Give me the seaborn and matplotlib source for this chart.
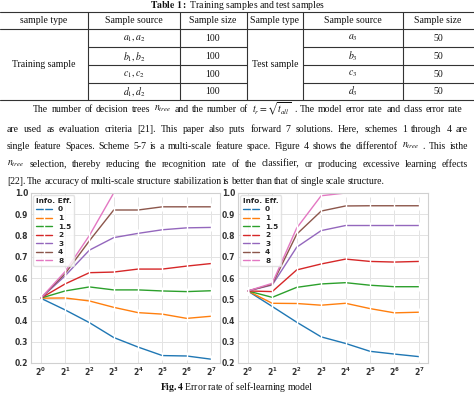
import matplotlib
matplotlib.use("Agg")
import matplotlib.pyplot as plt
import pandas as pd
import seaborn as sns

# ---- table data ----
header = ["sample type", "Sample source", "Sample size", "Sample type", "Sample source", "Sample size"]
train_sources = [r"$a_1,a_2$", r"$b_1,b_2$", r"$c_1,c_2$", r"$d_1,d_2$"]
train_sizes = [100, 100, 100, 100]
test_sources = [r"$a_3$", r"$b_3$", r"$c_3$", r"$d_3$"]
test_sizes = [50, 50, 50, 50]

# ---- chart data (x = number of trees, one list per info. eff. level) ----
n_trees = [1, 2, 4, 8, 16, 32, 64, 128]
info_eff = ["0", "1", "1.5", "2", "3", "4", "8"]

left_0 = [0.505, 0.45, 0.39, 0.32, 0.275, 0.235, 0.233, 0.218]
left_1 = [0.505, 0.506, 0.492, 0.462, 0.437, 0.43, 0.41, 0.42]
left_15 = [0.505, 0.539, 0.558, 0.544, 0.544, 0.539, 0.536, 0.54]
left_2 = [0.505, 0.572, 0.625, 0.628, 0.642, 0.642, 0.656, 0.668]
left_3 = [0.505, 0.61, 0.731, 0.79, 0.81, 0.827, 0.836, 0.838]
left_4 = [0.505, 0.62, 0.775, 0.92, 0.92, 0.935, 0.935, 0.935]
left_8 = [0.505, 0.63, 0.80, 1.0, 1.0, 1.0, 1.0, 1.0]

right_0 = [0.539, 0.466, 0.392, 0.323, 0.292, 0.255, 0.242, 0.23]
right_1 = [0.539, 0.481, 0.48, 0.472, 0.481, 0.456, 0.436, 0.439]
right_15 = [0.539, 0.509, 0.556, 0.572, 0.578, 0.566, 0.559, 0.559]
right_2 = [0.539, 0.536, 0.638, 0.666, 0.689, 0.678, 0.675, 0.678]
right_3 = [0.539, 0.567, 0.745, 0.823, 0.847, 0.847, 0.847, 0.847]
right_4 = [0.539, 0.57, 0.806, 0.915, 0.939, 0.94, 0.94, 0.94]
right_8 = [0.539, 0.575, 0.835, 0.987, 1.0, 1.0, 1.0, 1.0]

left_series = [left_0, left_1, left_15, left_2, left_3, left_4, left_8]
right_series = [right_0, right_1, right_15, right_2, right_3, right_4, right_8]


def to_long(series):
    rows = []
    for lab, vals in zip(info_eff, series):
        for n, v in zip(n_trees, vals):
            rows.append({"n": n, "rate": v, "Info. Eff.": lab})
    return pd.DataFrame(rows)


sns.set_style("whitegrid")
palette = sns.color_palette("tab10", 7)

fig = plt.figure(figsize=(4.74, 3.94), dpi=100)
W, H = 474, 394

# background axes in pixel coords for the page text and table
bg = fig.add_axes([0, 0, 1, 1], zorder=0)
bg.set_xlim(0, W)
bg.set_ylim(H, 0)
bg.axis("off")

serif = dict(family="Liberation Serif", fontsize=7, math_fontfamily="stix", color="#111111")

# table title (sits at the very top edge of the page)
bg.text(237, 5.5, r"$\mathbf{Table\ 1:}$ Training samples and test samples", ha="center", va="center", **serif)

# table lines
col_x = [88, 180, 247, 303, 403]
row_y = [29, 47, 65, 83]
lc = dict(color="#333333", lw=0.8)
bg.plot([0, W], [12, 12], **lc)
bg.plot([0, W], [29, 29], **lc)
bg.plot([0, W], [100, 100], **lc)
for y in row_y[1:]:
    bg.plot([88, 247], [y, y], **lc)
    bg.plot([303, W], [y, y], **lc)
for x in col_x:
    bg.plot([x, x], [12, 100], **lc)

col_c = [44, 134, 213, 275, 353, 438]
for cx, h in zip(col_c, header):
    bg.text(cx, 20.5, h, ha="center", va="center", **serif)
bg.text(col_c[0], 64, "Training sample", ha="center", va="center", **serif)
bg.text(col_c[3], 64, "Test sample", ha="center", va="center", **serif)
edges = [29] + row_y[1:] + [100]
for i in range(4):
    yc = (edges[i] + edges[i + 1]) / 2
    bg.text(col_c[1], yc, train_sources[i], ha="center", va="center", **serif)
    bg.text(col_c[2], yc, str(train_sizes[i]), ha="center", va="center", **serif)
    bg.text(col_c[4], yc, test_sources[i], ha="center", va="center", **serif)
    bg.text(col_c[5], yc, str(test_sizes[i]), ha="center", va="center", **serif)

# body paragraph, justified word by word
renderer = fig.canvas.get_renderer()


def justify(line, x0, x1, y, stretch=True):
    words = line.split(" ")
    ts = [bg.text(0, y, w, va="center", ha="left", **serif) for w in words]
    ws = [t.get_window_extent(renderer).width for t in ts]
    gap = (x1 - x0 - sum(ws)) / (len(ws) - 1) if stretch else 1.8
    x = x0
    for t, w in zip(ts, ws):
        t.set_x(x)
        x += w + gap


justify(r"The number of decision trees $n_{tree}$ and the number of $t_r=\sqrt{t_{all}}$ . The model error rate and class error rate", 33, 463, 109)
justify("are used as evaluation criteria [21]. This paper also puts forward 7 solutions. Here, schemes 1 through 4 are", 7, 468, 129)
justify(r"single feature Spaces. Scheme 5-7 is a multi-scale feature space. Figure 4 shows the differentof $n_{tree}$ . This isthe", 7, 468, 146)
justify(r"$n_{tree}$ selection, thereby reducing the recognition rate of the classifier, or producing excessive learning effects", 7, 468, 164)
justify("[22]. The accuracy of multi-scale structure stabilization is better than that of single scale structure.", 7, 400, 181, stretch=False)

# caption
bg.text(237, 387, r"$\mathbf{Fig.4}$ Error rate of self-learning model", ha="center", va="center", **serif)

# ---- the two charts ----
axes_px = [(31, 220), (238, 428)]
for (px0, px1), series in zip(axes_px, [left_series, right_series]):
    ax = fig.add_axes([px0 / W, 1 - 363 / H, (px1 - px0) / W, 170 / H], zorder=2)
    df = to_long(series)
    sns.lineplot(data=df, x="n", y="rate", hue="Info. Eff.", palette=palette,
                 marker="|", markersize=6, markeredgewidth=1.0, linewidth=1.0, ax=ax)
    ax.set_xscale("log", base=2)
    ax.set_xlim(2 ** -0.4, 2 ** 7.37)
    ax.set_ylim(0.2, 1.0)
    ax.set_xticks(n_trees)
    ax.set_xticklabels([rf"$\mathbf{{2^{{{k}}}}}$" for k in range(8)])
    ax.set_xticks([], minor=True)
    ax.set_yticks([0.2, 0.3, 0.4, 0.5, 0.6, 0.7, 0.8, 0.9, 1.0])
    ax.set_yticklabels([f"{v:.1f}" for v in ax.get_yticks()])
    ax.tick_params(labelsize=5.5, colors="#333333", pad=2, length=0)
    for lab in ax.get_yticklabels():
        lab.set_fontweight("bold")
    ax.set_xlabel("")
    ax.set_ylabel("")
    ax.grid(color="#e3e3e3", lw=0.7)
    for s in ax.spines.values():
        s.set_color("#d0d0d0")
        s.set_linewidth(0.8)
    leg = ax.legend(title="Info. Eff.", loc="upper left", title_fontsize=5.3,
                    handlelength=2.2, handleheight=0.5, labelspacing=0.35,
                    borderaxespad=0.3, borderpad=0.35,
                    prop={"weight": "bold", "size": 5.3}, frameon=True)
    leg.get_title().set_fontweight("bold")
    leg.get_frame().set_edgecolor("#dddddd")

fig.savefig("out.png", dpi=100)
